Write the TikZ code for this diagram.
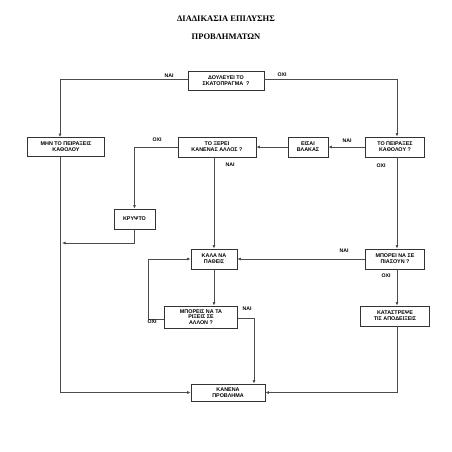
\documentclass[tikz,border=0pt]{standalone}
\usepackage{fontspec}
\setmainfont{Liberation Sans}
\newfontfamily\titlefont{Liberation Serif}
\usetikzlibrary{arrows.meta}
\begin{document}
\begin{tikzpicture}[x=1pt,y=-1pt,
  box/.style={draw=black!80,line width=0.7pt,fill=white,align=center,inner sep=1pt,font=\fontsize{5.4}{5.8}\selectfont\bfseries},
  lab/.style={font=\fontsize{5.2}{5.6}\selectfont\bfseries},
  conn/.style={draw=black!70,line width=0.7pt,-{Latex[length=3.5pt,width=3pt]}}]
\path[use as bounding box,fill=white] (0,0) rectangle (452,452);
\node[font=\titlefont\fontsize{8.5}{9}\selectfont\bfseries] (t1) at (226,19) {ΔΙΑΔΙΚΑΣΙΑ ΕΠΙΛΥΣΗΣ};
\node[font=\titlefont\fontsize{8.5}{9}\selectfont\bfseries] (t2) at (226,37) {ΠΡΟΒΛΗΜΑΤΩΝ};
\node[box,minimum width=76pt,minimum height=19pt] (top) at (226,80.5) {ΔΟΥΛΕΥΕΙ ΤΟ\\ΣΚΑΤΟΠΡΑΓΜΑ \ ?};
\node[box,minimum width=77pt,minimum height=19pt] (mhn) at (66,147) {ΜΗΝ ΤΟ ΠΕΙΡΑΞΕΙΣ\\ΚΑΘΟΛΟΥ};
\node[box,minimum width=78pt,minimum height=20pt] (xerei) at (217,147) {ΤΟ ΞΕΡΕΙ\\ΚΑΝΕΝΑΣ ΑΛΛΟΣ ?};
\node[box,minimum width=40pt,minimum height=20pt] (eisai) at (308,147) {ΕΙΣΑΙ\\ΒΛΑΚΑΣ};
\node[box,minimum width=59pt,minimum height=20pt] (peir) at (395,147) {ΤΟ ΠΕΙΡΑΞΕΣ\\ΚΑΘΟΛΟΥ ?};
\node[box,minimum width=41pt,minimum height=20pt] (kryp) at (134.5,219) {ΚΡΥΨΤΟ};
\node[box,minimum width=46pt,minimum height=20pt] (kala) at (214,259) {ΚΑΛΑ ΝΑ\\ΠΑΘΕΙΣ};
\node[box,minimum width=59pt,minimum height=20pt] (piasoun) at (395,259) {ΜΠΟΡΕΙ ΝΑ ΣΕ\\ΠΙΑΣΟΥΝ ?};
\node[box,minimum width=73pt,minimum height=22pt] (rixeis) at (201,317) {ΜΠΟΡΕΙΣ ΝΑ ΤΑ\\ΡΙΞΕΙΣ ΣΕ\\ΑΛΛΟΝ ?};
\node[box,minimum width=69pt,minimum height=20pt] (katastr) at (395,316) {ΚΑΤΑΣΤΡΕΨΕ\\ΤΙΣ ΑΠΟΔΕΙΞΕΙΣ};
\node[box,minimum width=74pt,minimum height=17pt] (kanena) at (228,392.5) {ΚΑΝΕΝΑ\\ΠΡΟΒΛΗΜΑ};
\coordinate (kl) at (62,243);
\draw[conn] ([yshift=1.5pt]top.west) -| ([xshift=-6pt]mhn.north);
\draw[conn] ([yshift=1.5pt]top.east) -| ([xshift=2pt]peir.north);
\draw[conn] (peir.west) -- (eisai.east);
\draw[conn] (eisai.west) -- (xerei.east);
\draw[conn] (xerei.west) -| (kryp.north);
\draw[conn] ([xshift=-3pt]xerei.south) -- (xerei.south -| kala.north) -- (kala.north);
\draw[conn] (kryp.south) |- (kl);
\draw[conn] ([xshift=-6pt]mhn.south) |- (kanena.west);
\draw[conn] ([xshift=2pt]peir.south) -- ([xshift=2pt]piasoun.north);
\draw[conn] (piasoun.west) -- (kala.east);
\draw[conn] ([xshift=2pt]piasoun.south) -- ([xshift=2pt]katastr.north);
\draw[conn] (kala.south) -- (kala.south |- rixeis.north);
\draw[conn] ([yshift=-2pt]rixeis.west) -- ++(-16,0) |- (kala.west);
\draw[conn] ([yshift=-1pt]rixeis.east) -| ([xshift=26pt]kanena.north);
\draw[conn] ([xshift=2pt]katastr.south) |- (kanena.east);
\node[lab] (l1) at (169,76) {ΝΑΙ};
\node[lab] (l2) at (282,75) {ΟΧΙ};
\node[lab] (l3) at (347,141) {ΝΑΙ};
\node[lab] (l4) at (157,140) {ΟΧΙ};
\node[lab] (l5) at (230,165) {ΝΑΙ};
\node[lab] (l6) at (381,166) {ΟΧΙ};
\node[lab] (l7) at (344,251) {ΝΑΙ};
\node[lab] (l8) at (386,276) {ΟΧΙ};
\node[lab] (l9) at (152,322) {ΟΧΙ};
\node[lab] (l10) at (247,309) {ΝΑΙ};
\end{tikzpicture}
\end{document}
